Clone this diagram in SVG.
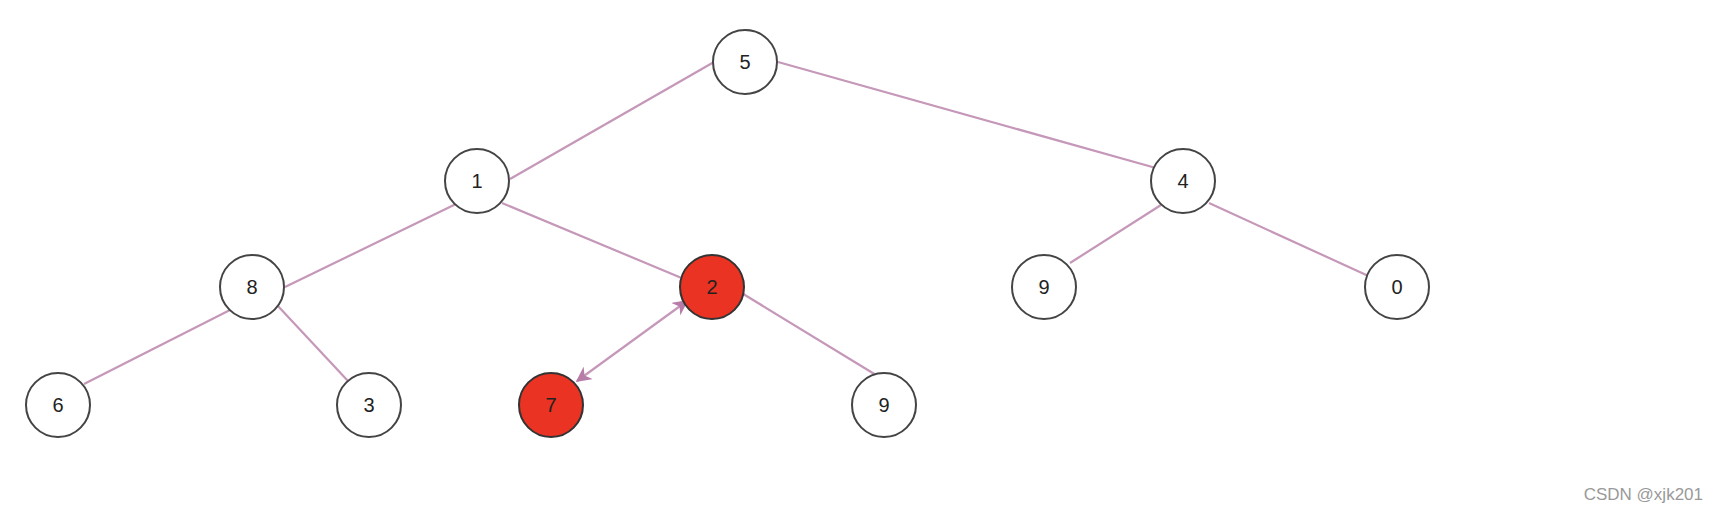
<svg xmlns="http://www.w3.org/2000/svg" width="1718" height="512" viewBox="0 0 1718 512">
<style>
.n circle{fill:#fff;stroke:#444;stroke-width:2}
.n.r circle{fill:#ea3323;stroke:#333}
.n text{font-family:"Liberation Sans",Arial,sans-serif;font-size:20px;fill:#222;text-anchor:middle;dominant-baseline:central}
.e line{stroke:#c597b8;stroke-width:2.2}
</style>
<defs><marker id="a" viewBox="0 0 10 10" refX="9" refY="5" markerWidth="7" markerHeight="7" orient="auto-start-reverse"><path d="M0,0L10,5L0,10L3,5z" fill="#b77da8"/></marker></defs>
<rect width="1718" height="512" fill="#fff"/>
<g id="edges" class="e">
<line x1="714" y1="62" x2="510" y2="179"/>
<line x1="778" y1="62" x2="1163" y2="170"/>
<line x1="458" y1="203" x2="285" y2="287"/>
<line x1="502" y1="203" x2="684" y2="279"/>
<line x1="1161" y1="205" x2="1070" y2="263"/>
<line x1="1209" y1="203" x2="1375" y2="279"/>
<line x1="230" y1="310" x2="84" y2="384"/>
<line x1="277" y1="305" x2="348" y2="381"/>
<line x1="740" y1="292" x2="876" y2="375"/>
<line x1="687" y1="301" x2="577" y2="381" marker-start="url(#a)" marker-end="url(#a)"/>
</g>
<g id="n5" class="n"><circle cx="745" cy="62" r="32"/><text x="745" y="62">5</text></g>
<g id="n1" class="n"><circle cx="477" cy="181" r="32"/><text x="477" y="181">1</text></g>
<g id="n4" class="n"><circle cx="1183" cy="181" r="32"/><text x="1183" y="181">4</text></g>
<g id="n8" class="n"><circle cx="252" cy="287" r="32"/><text x="252" y="287">8</text></g>
<g id="n2" class="n r"><circle cx="712" cy="287" r="32"/><text x="712" y="287">2</text></g>
<g id="n9a" class="n"><circle cx="1044" cy="287" r="32"/><text x="1044" y="287">9</text></g>
<g id="n0" class="n"><circle cx="1397" cy="287" r="32"/><text x="1397" y="287">0</text></g>
<g id="n6" class="n"><circle cx="58" cy="405" r="32"/><text x="58" y="405">6</text></g>
<g id="n3" class="n"><circle cx="369" cy="405" r="32"/><text x="369" y="405">3</text></g>
<g id="n7" class="n r"><circle cx="551" cy="405" r="32"/><text x="551" y="405">7</text></g>
<g id="n9b" class="n"><circle cx="884" cy="405" r="32"/><text x="884" y="405">9</text></g>
<text x="1703" y="500" font-family="Liberation Sans,Arial,sans-serif" font-size="17" fill="#999" text-anchor="end">CSDN @xjk201</text>
</svg>
